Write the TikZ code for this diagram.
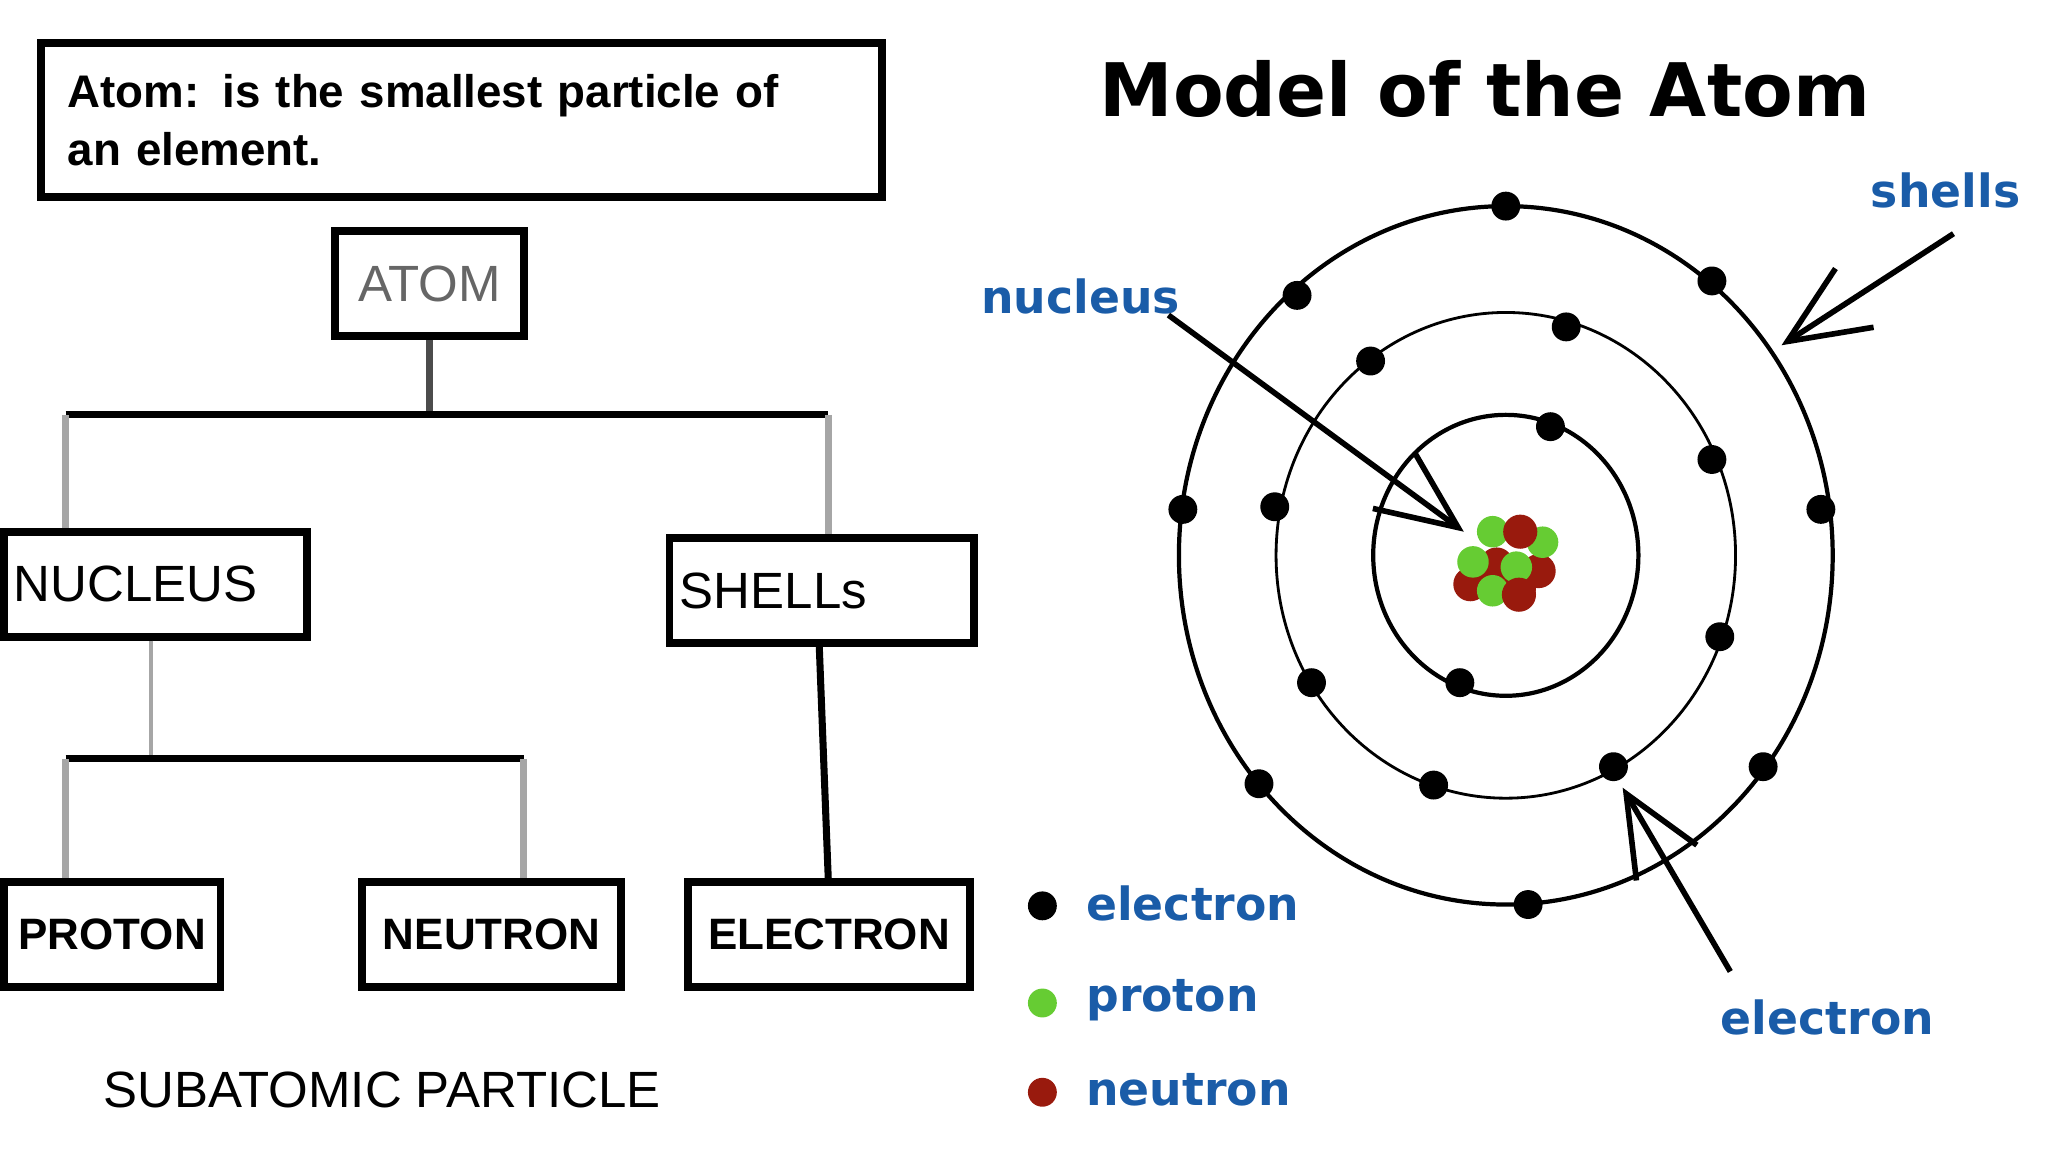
\documentclass[tikz,border=0pt]{standalone}
\usepackage{fontspec}
\setmainfont{Liberation Sans}
\newfontfamily\heavyfont{DejaVu Sans}
\usetikzlibrary{arrows.meta}
\definecolor{labelblue}{HTML}{1A5CA8}
\definecolor{protgreen}{HTML}{66CC33}
\definecolor{neutred}{HTML}{991A0D}
\tikzset{
  box/.style={draw, line width=2.2pt, minimum height=1.05cm, inner sep=0pt},
  branch/.style={line width=2pt},
  grayline/.style={line width=2pt, gray!70},
  shell/.style={line width=1.2pt},
  electron/.style={fill=black},
  tag/.style={text=labelblue, font=\heavyfont\bfseries\fontsize{13}{16}\selectfont},
  pointer/.style={line width=1.6pt, -{Straight Barb[length=8mm, width=7mm, line width=1.6pt]}}
}
\begin{document}
\begin{tikzpicture}[x=0.01313cm, y=-0.01313cm]
  \useasboundingbox (0,0) rectangle (1560,877);
  % definition
  \node[box, minimum width=641*0.01313cm, minimum height=117*0.01313cm, align=left, text width=600*0.01313cm,
        font=\bfseries\fontsize{13}{16.5}\selectfont] (def) at (351.5,91.5)
        {Atom: is the smallest particle of\\an element.};
  % tree
  \node[box, minimum width=144*0.01313cm, text=gray!80!black, font=\fontsize{14.5}{18}\selectfont] (atom) at (327,216) {ATOM};
  \node[box, minimum width=231*0.01313cm, anchor=west, font=\fontsize{14.5}{18}\selectfont, text width=216*0.01313cm] (nucleus) at (0,445) {NUCLEUS};
  \node[box, minimum width=232*0.01313cm, anchor=west, font=\fontsize{14.5}{18}\selectfont, text width=216*0.01313cm] (shells) at (507,450) {SHELLs};
  \node[box, minimum width=165*0.01313cm, anchor=west, font=\bfseries\fontsize{12.5}{18}\selectfont] (proton) at (0,712) {PROTON};
  \node[box, minimum width=197*0.01313cm, font=\bfseries\fontsize{12.5}{18}\selectfont] (neutron) at (374.5,712) {NEUTRON};
  \node[box, minimum width=215*0.01313cm, font=\bfseries\fontsize{12.5}{18}\selectfont] (electron) at (631.5,712) {ELECTRON};
  \node[font=\fontsize{14.5}{18}\selectfont] (sub) at (291,830) {SUBATOMIC PARTICLE};

  \coordinate (j1) at (327,316);
  \coordinate (j1l) at (50,316);
  \coordinate (j1r) at (631,316);
  \coordinate (j2) at (115,578);
  \coordinate (j2l) at (50,578);
  \coordinate (j2r) at (399,578);
  \draw[grayline, black!70] (atom.south) -- (j1);
  \draw[branch] (j1l) -- (j1r);
  \draw[grayline] (j1l) -- (j1l |- nucleus.north);
  \draw[grayline] (j1r) -- (j1r |- shells.north);
  \draw[gray!70, line width=1pt] (j2 |- nucleus.south) -- (j2);
  \draw[branch] (j2l) -- (j2r);
  \draw[grayline] (j2l) -- (j2l |- proton.north);
  \draw[grayline] (j2r) -- (j2r |- neutron.north);
  \draw[branch] (624,491) -- (631,672);

  % model
  \node[font=\heavyfont\bfseries\fontsize{21}{24}\selectfont] (title) at (1131,68) {Model of the Atom};
  \coordinate (c) at (1147,423);
  \draw[shell] (c) ellipse [x radius=101, y radius=107];
  \draw[shell, line width=0.8pt] (c) ellipse [x radius=175, y radius=185];
  \draw[shell] (c) ellipse [x radius=249, y radius=266];
  \foreach \p in {(1181,325),(1112,520),(1193,249),(1044,275),(1304,350),(971,386),(1310,485),
                  (999,520),(1229,584),(1092,598),(1147,157),(988,225),(1304,214),(901,388),
                  (1387,388),(959,597),(1343,584),(1164,689)}
    \fill[electron] \p circle (11);
  % nucleus cluster
  \foreach \p in {(1120,445),(1157,448),(1172,435),(1140,430)}
    \fill[neutred] \p circle (13);
  \foreach \p in {(1137,405),(1122,428),(1175,413),(1137,450),(1155,432)}
    \fill[protgreen] \p circle (12);
  \foreach \p in {(1158,405),(1157,453)}
    \fill[neutred] \p circle (13);

  % labels
  \node[tag] (lnuc) at (823,226) {nucleus};
  \node[tag] (lsh) at (1482,145) {shells};
  \node[tag] (lel) at (1392,775) {electron};
  \coordinate (nucin) at (1115,405);
  \coordinate (shin) at (1357,263);
  \coordinate (elin) at (1236,600);
  \draw[pointer] (890,240) -- (nucin);
  \draw[pointer] (1488,178) -- (shin);
  \draw[pointer] (1318,740) -- (elin);

  % legend
  \fill[black] (794,690) circle (11);
  \fill[protgreen] (794,764) circle (11);
  \fill[neutred] (794,832) circle (11);
  \node[tag, anchor=west] (gel) at (818,688) {electron};
  \node[tag, anchor=west] (gpr) at (818,762) {proton};
  \node[tag, anchor=west] (gne) at (818,830) {neutron};
\end{tikzpicture}
\end{document}
